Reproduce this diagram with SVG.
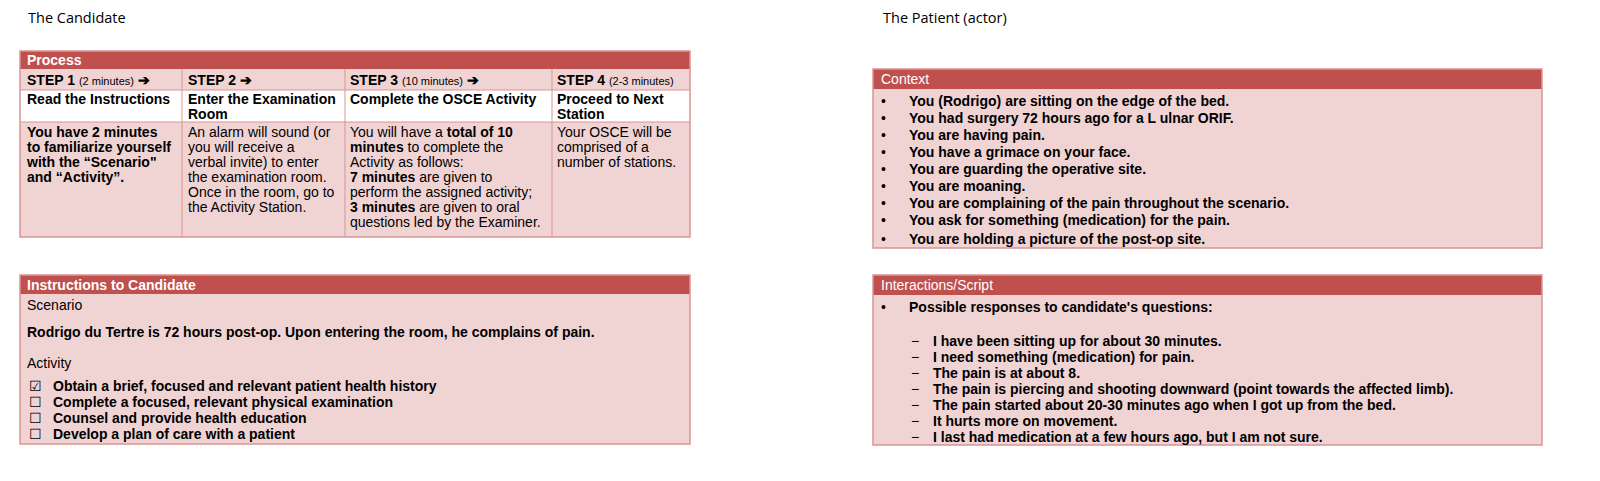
<svg xmlns="http://www.w3.org/2000/svg" width="1600" height="481" viewBox="0 0 1600 481">
<style>
text{font-family:"Liberation Sans",Arial,sans-serif;font-size:14px;fill:#000}
.b{font-weight:bold}
.h{font-weight:bold;fill:#fff}
.s{font-size:11px;font-weight:normal}
.t{font-family:"Open Sans","Liberation Sans",sans-serif;font-size:14.5px}
.hd{fill:#c0504d}
.pk{fill:#f0d3d3}
.fr{fill:none;stroke:#d99594;stroke-width:1.5}
.ln{stroke:#d99594;stroke-width:1}
</style>
<rect width="1600" height="481" fill="#fff"/>
<text class="t" x="28" y="23">The Candidate</text>
<text class="t" x="883" y="23">The Patient (actor)</text>

<g id="process">
<rect class="pk" x="20" y="51" width="670" height="186"/>
<rect class="hd" x="20" y="51" width="670" height="18"/>
<rect fill="#fff" x="20" y="90" width="670" height="32"/>
<line class="ln" x1="20" y1="90" x2="690" y2="90"/>
<line class="ln" x1="20" y1="122" x2="690" y2="122"/>
<line class="ln" x1="182" y1="69" x2="182" y2="237"/>
<line class="ln" x1="345" y1="69" x2="345" y2="237"/>
<line class="ln" x1="552" y1="69" x2="552" y2="237"/>
<rect class="fr" x="20" y="51" width="670" height="186"/>
<text class="h" x="27" y="65">Process</text>
<text class="b" x="27" y="85">STEP 1 <tspan class="s">(2 minutes)</tspan> ➔</text>
<text class="b" x="188" y="85">STEP 2 ➔</text>
<text class="b" x="350" y="85">STEP 3 <tspan class="s">(10 minutes)</tspan> ➔</text>
<text class="b" x="557" y="85">STEP 4 <tspan class="s">(2-3 minutes)</tspan></text>
<text class="b" x="27" y="104">Read the Instructions</text>
<text class="b" x="188" y="104">Enter the Examination</text>
<text class="b" x="188" y="119">Room</text>
<text class="b" x="350" y="104">Complete the OSCE Activity</text>
<text class="b" x="557" y="104">Proceed to Next</text>
<text class="b" x="557" y="119">Station</text>
<text class="b" x="27" y="137">You have 2 minutes</text>
<text class="b" x="27" y="152">to familiarize yourself</text>
<text class="b" x="27" y="167">with the “Scenario"</text>
<text class="b" x="27" y="182">and “Activity”.</text>
<text x="188" y="137">An alarm will sound (or</text>
<text x="188" y="152">you will receive a</text>
<text x="188" y="167">verbal invite) to enter</text>
<text x="188" y="182">the examination room.</text>
<text x="188" y="197">Once in the room, go to</text>
<text x="188" y="212">the Activity Station.</text>
<text x="350" y="137">You will have a <tspan class="b">total of 10</tspan></text>
<text x="350" y="152"><tspan class="b">minutes</tspan> to complete the</text>
<text x="350" y="167">Activity as follows:</text>
<text x="350" y="182"><tspan class="b">7 minutes</tspan> are given to</text>
<text x="350" y="197">perform the assigned activity;</text>
<text x="350" y="212"><tspan class="b">3 minutes</tspan> are given to oral</text>
<text x="350" y="227">questions led by the Examiner.</text>
<text x="557" y="137">Your OSCE will be</text>
<text x="557" y="152">comprised of a</text>
<text x="557" y="167">number of stations.</text>
</g>

<g id="instructions">
<rect class="pk" x="20" y="275" width="670" height="169"/>
<rect class="hd" x="20" y="275" width="670" height="19"/>
<rect class="fr" x="20" y="275" width="670" height="169"/>
<text class="h" x="27" y="290">Instructions to Candidate</text>
<text x="27" y="310">Scenario</text>
<text class="b" x="27" y="337">Rodrigo du Tertre is 72 hours post-op. Upon entering the room, he complains of pain.</text>
<text x="27" y="368">Activity</text>
<text x="29" y="391">☑</text><text class="b" x="53" y="391">Obtain a brief, focused and relevant patient health history</text>
<text x="29" y="407">☐</text><text class="b" x="53" y="407">Complete a focused, relevant physical examination</text>
<text x="29" y="423">☐</text><text class="b" x="53" y="423">Counsel and provide health education</text>
<text x="29" y="439">☐</text><text class="b" x="53" y="439">Develop a plan of care with a patient</text>
</g>

<g id="context">
<rect class="pk" x="873" y="69" width="669" height="179"/>
<rect class="hd" x="873" y="69" width="669" height="20"/>
<rect class="fr" x="873" y="69" width="669" height="179"/>
<text x="881" y="84" style="fill:#fff">Context</text>
<text x="881" y="106">•</text><text class="b" x="909" y="106">You (Rodrigo) are sitting on the edge of the bed.</text>
<text x="881" y="123">•</text><text class="b" x="909" y="123">You had surgery 72 hours ago for a L ulnar ORIF.</text>
<text x="881" y="140">•</text><text class="b" x="909" y="140">You are having pain.</text>
<text x="881" y="157">•</text><text class="b" x="909" y="157">You have a grimace on your face.</text>
<text x="881" y="174">•</text><text class="b" x="909" y="174">You are guarding the operative site.</text>
<text x="881" y="191">•</text><text class="b" x="909" y="191">You are moaning.</text>
<text x="881" y="208">•</text><text class="b" x="909" y="208">You are complaining of the pain throughout the scenario.</text>
<text x="881" y="225">•</text><text class="b" x="909" y="225">You ask for something (medication) for the pain.</text>
<text x="881" y="244">•</text><text class="b" x="909" y="244">You are holding a picture of the post-op site.</text>
</g>

<g id="interactions">
<rect class="pk" x="873" y="275" width="669" height="170"/>
<rect class="hd" x="873" y="275" width="669" height="20"/>
<rect class="fr" x="873" y="275" width="669" height="170"/>
<text x="881" y="290" style="fill:#fff">Interactions/Script</text>
<text x="881" y="312">•</text><text class="b" x="909" y="312">Possible responses to candidate's questions:</text>
<text x="911" y="346">−</text><text class="b" x="933" y="346">I have been sitting up for about 30 minutes.</text>
<text x="911" y="362">−</text><text class="b" x="933" y="362">I need something (medication) for pain.</text>
<text x="911" y="378">−</text><text class="b" x="933" y="378">The pain is at about 8.</text>
<text x="911" y="394">−</text><text class="b" x="933" y="394">The pain is piercing and shooting downward (point towards the affected limb).</text>
<text x="911" y="410">−</text><text class="b" x="933" y="410">The pain started about 20-30 minutes ago when I got up from the bed.</text>
<text x="911" y="426">−</text><text class="b" x="933" y="426">It hurts more on movement.</text>
<text x="911" y="442">−</text><text class="b" x="933" y="442">I last had medication at a few hours ago, but I am not sure.</text>
</g>
</svg>
